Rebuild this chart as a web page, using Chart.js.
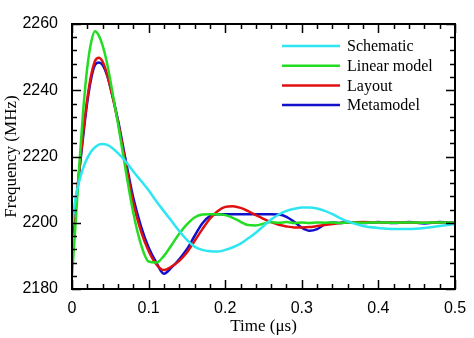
<!DOCTYPE html>
<html>
<head>
<meta charset="utf-8">
<script src="https://cdn.jsdelivr.net/npm/chart.js@4/dist/chart.umd.min.js"></script>
<style>
    html, body { margin: 0; padding: 0; background: #fff; }
    #wrap { width: 474px; height: 338px; }
</style>
</head>
<body>
<div id="wrap"><canvas id="chart"></canvas></div>
<script>
// Sample times (µs) shared by all four curves
const timeUs = [0, 0.005, 0.01, 0.015, 0.02, 0.025, 0.03, 0.035, 0.04, 0.045, 0.05,
    0.06, 0.07, 0.08, 0.09, 0.1, 0.11, 0.12, 0.13, 0.14, 0.15, 0.16, 0.17, 0.18, 0.19,
    0.2, 0.21, 0.22, 0.23, 0.24, 0.25, 0.26, 0.27, 0.28, 0.29, 0.3, 0.31, 0.32, 0.33,
    0.34, 0.35, 0.36, 0.38, 0.4, 0.42, 0.44, 0.46, 0.48, 0.5];

// Frequency (MHz) per series
const schematic = [2199, 2208, 2213, 2216.8, 2219.5, 2221.5, 2222.8, 2223.6, 2223.8, 2223.6, 2223,
    2221, 2218.5, 2215.5, 2212.7, 2209.8, 2206.5, 2203.5, 2200.5, 2197.5, 2194.8, 2192.8, 2191.8, 2191.4, 2191.3,
    2191.8, 2192.6, 2193.7, 2195.3, 2197, 2199, 2201, 2202.5, 2203.6, 2204.2, 2204.6, 2204.6, 2204.3, 2203.6,
    2202.6, 2201.4, 2200.4, 2199, 2198.4, 2198.1, 2198.1, 2198.4, 2199, 2199.6];
const linearModel = [2184, 2201, 2219, 2235, 2247, 2254.5, 2257.8, 2256.5, 2253.5, 2249, 2243,
    2230, 2216, 2203, 2193.5, 2188.3, 2188, 2190, 2193.3, 2196.7, 2199.5, 2201.6, 2202.5, 2202.6, 2202.6,
    2202.3, 2201.5, 2200.3, 2199.3, 2199.2, 2199.7, 2200.2, 2200, 2200.2, 2199.9, 2200.1, 2199.9, 2200.1, 2200,
    2200.1, 2199.9, 2200.1, 2200, 2200.1, 2200, 2200.1, 2200, 2200.1, 2200];
const layout = [2196, 2206, 2217, 2228, 2237.5, 2244.5, 2248.8, 2249.8, 2248.6, 2245.5, 2241,
    2230.5, 2218, 2206, 2197.5, 2191.5, 2187.5, 2185.7, 2186.8, 2188.5, 2191, 2194.5, 2198, 2201.2, 2203.5,
    2204.8, 2205, 2204.5, 2203.5, 2202.3, 2201.2, 2200.2, 2199.4, 2198.9, 2198.6, 2198.6, 2198.7, 2199, 2199.3,
    2199.6, 2199.9, 2200.1, 2200.2, 2200.1, 2200.1, 2200, 2200, 2200, 2200];
const metamodel = [2196, 2205.5, 2216.5, 2227, 2236.5, 2243.5, 2247.6, 2248.4, 2247.6, 2245, 2241,
    2231, 2219, 2207.5, 2199, 2192.5, 2188, 2184.6, 2186.5, 2189, 2192, 2196, 2199.8, 2202, 2202.6,
    2202.6, 2202.6, 2202.6, 2202.6, 2202.6, 2202.6, 2202.6, 2202.5, 2201.8, 2200.3, 2198.5, 2197.6, 2198.1, 2199.5,
    2200.1, 2199.9, 2200.2, 2199.9, 2200.2, 2199.9, 2200.2, 2199.8, 2200.2, 2200];

const seriesLabels = ['Schematic', 'Linear model', 'Layout', 'Metamodel'];
const seriesColors = ['#2ee6f2', '#22dd22', '#e01010', '#1010cc'];

const xTicks = [0, 0.1, 0.2, 0.3, 0.4, 0.5];
const yTicks = [2180, 2200, 2220, 2240, 2260];
const xMinorStep = 0.02;
const yMinorStep = 4;

const serifFont = '"Liberation Serif", "Times New Roman", serif';
const sansFont = '"Liberation Sans", Arial, sans-serif';

function toPoints(values) {
    return timeUs.map((t, i) => ({ x: t, y: values[i] }));
}

// Box frame with inward ticks on all four sides
const framePlugin = {
    id: 'frameTicks',
    afterDatasetsDraw(chart) {
        const { ctx, chartArea: a, scales } = chart;
        const xs = scales.x, ys = scales.y;
        ctx.save();
        ctx.strokeStyle = '#000';
        ctx.lineWidth = 2;
        ctx.strokeRect(a.left, a.top, a.right - a.left, a.bottom - a.top);
        ctx.lineWidth = 1.5;
        ctx.beginPath();
        for (let v = xs.min; v <= xs.max + 1e-9; v += xMinorStep) {
            const px = Math.round(xs.getPixelForValue(v)) + 0.5;
            const major = xTicks.some(t => Math.abs(t - v) < 1e-6);
            const len = major ? 9 : 5;
            ctx.moveTo(px, a.bottom); ctx.lineTo(px, a.bottom - len);
            ctx.moveTo(px, a.top); ctx.lineTo(px, a.top + len);
        }
        for (let v = ys.min; v <= ys.max + 1e-9; v += yMinorStep) {
            const py = Math.round(ys.getPixelForValue(v)) + 0.5;
            const major = yTicks.some(t => Math.abs(t - v) < 1e-6);
            const len = major ? 9 : 5;
            ctx.moveTo(a.left, py); ctx.lineTo(a.left + len, py);
            ctx.moveTo(a.right, py); ctx.lineTo(a.right - len, py);
        }
        ctx.stroke();
        ctx.restore();
    }
};

// Legend drawn inside the plot, upper right
const legendPlugin = {
    id: 'insideLegend',
    afterDraw(chart) {
        const { ctx, chartArea: a } = chart;
        ctx.save();
        ctx.font = '16px ' + serifFont;
        ctx.textBaseline = 'middle';
        ctx.fillStyle = '#000';
        chart.data.datasets.forEach((ds, i) => {
            const y = a.top + 22 + i * 19.7;
            ctx.strokeStyle = ds.borderColor;
            ctx.lineWidth = 2.5;
            ctx.beginPath();
            ctx.moveTo(a.left + 210, y);
            ctx.lineTo(a.left + 268, y);
            ctx.stroke();
            ctx.fillText(ds.label, a.left + 275, y + 1);
        });
        ctx.restore();
    }
};

new Chart(document.getElementById('chart'), {
    type: 'line',
    data: {
        datasets: [schematic, linearModel, layout, metamodel].map((vals, i) => ({
            label: seriesLabels[i],
            data: toPoints(vals),
            borderColor: seriesColors[i],
            borderWidth: 2.5,
            pointRadius: 0,
            cubicInterpolationMode: 'monotone',
            fill: false
        }))
    },
    options: {
        responsive: true,
        maintainAspectRatio: false,
        animation: false,
        devicePixelRatio: 1,
        layout: { padding: { left: 0, top: 24, right: 19, bottom: 0 } },
        plugins: {
            legend: { display: false },
            tooltip: { enabled: false }
        },
        scales: {
            x: {
                type: 'linear',
                min: 0,
                max: 0.5,
                afterBuildTicks: scale => { scale.ticks = xTicks.map(v => ({ value: v })); },
                afterFit: scale => { scale.height = 49; },
                grid: { display: false },
                border: { display: false },
                ticks: {
                    padding: 2,
                    color: '#000',
                    font: { family: sansFont, size: 16 },
                    callback: v => String(v)
                },
                title: {
                    display: true,
                    text: 'Time (\u03bcs)',
                    color: '#000',
                    font: { family: serifFont, size: 17 },
                    padding: { top: 0, bottom: 1 }
                }
            },
            y: {
                min: 2180,
                max: 2260,
                afterBuildTicks: scale => { scale.ticks = yTicks.map(v => ({ value: v })); },
                afterFit: scale => { scale.width = 72; },
                grid: { display: false },
                border: { display: false },
                ticks: {
                    padding: 6,
                    color: '#000',
                    font: { family: sansFont, size: 16 },
                    callback: v => String(v)
                },
                title: {
                    display: true,
                    text: 'Frequency (MHz)',
                    color: '#000',
                    font: { family: serifFont, size: 17 },
                    padding: { top: 1, bottom: 0 }
                }
            }
        }
    },
    plugins: [framePlugin, legendPlugin]
});
</script>
</body>
</html>
